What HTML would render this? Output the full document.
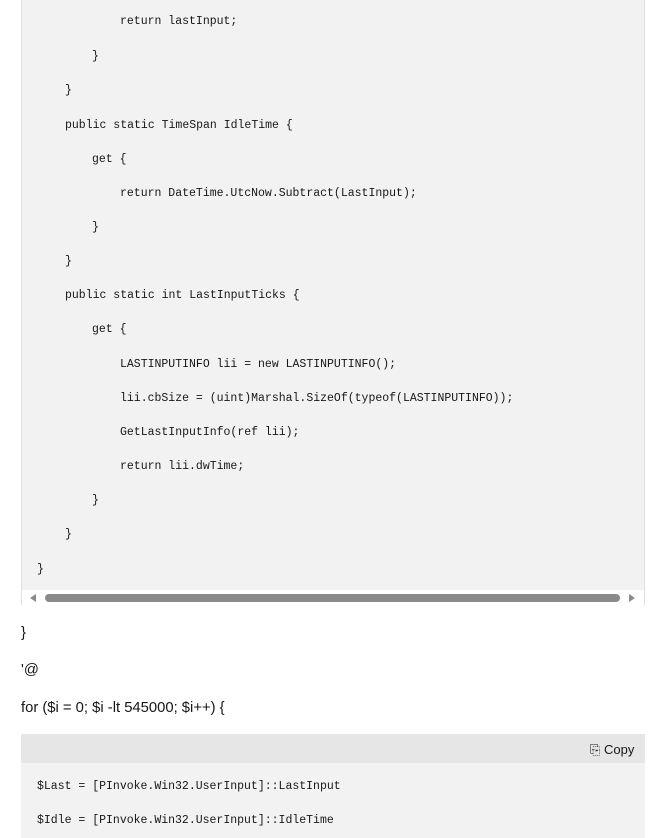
<!DOCTYPE html>
<html><head><meta charset="utf-8"><style>
body{margin:0;width:655px;height:838px;background:#fff;position:relative;overflow:hidden;font-family:"Liberation Sans",sans-serif;color:#171717}
.blk{position:absolute;left:21px;width:624px;background:#f2f2f2}
.m{position:absolute;font-family:"Liberation Mono",monospace;font-size:11.5px;white-space:pre;line-height:14px;color:#171717}
.t{position:absolute;left:21px;font-size:14.8px;line-height:16px;white-space:pre}
</style></head><body>
<div class="blk" style="top:0;height:605px;border:1px solid #e0e0e0;border-top:none;box-sizing:border-box"></div>
<div style="position:absolute;left:22px;top:590px;width:622px;height:15px;background:#fff"></div>
<div style="position:absolute;left:45px;top:594px;width:575px;height:8px;background:#8a8a8a;border-radius:4px"></div>
<div style="position:absolute;left:30px;top:594px;width:0;height:0;border-top:4px solid transparent;border-bottom:4px solid transparent;border-right:6px solid #8a8a8a"></div>
<div style="position:absolute;left:629px;top:594px;width:0;height:0;border-top:4px solid transparent;border-bottom:4px solid transparent;border-left:6px solid #8a8a8a"></div>
<div class="m" style="left:120px;top:15px">return lastInput;</div>
<div class="m" style="left:92px;top:50px">}</div>
<div class="m" style="left:65px;top:84px">}</div>
<div class="m" style="left:65px;top:119px">public static TimeSpan IdleTime {</div>
<div class="m" style="left:92px;top:153px">get {</div>
<div class="m" style="left:120px;top:187px">return DateTime.UtcNow.Subtract(LastInput);</div>
<div class="m" style="left:92px;top:221px">}</div>
<div class="m" style="left:65px;top:255px">}</div>
<div class="m" style="left:65px;top:289px">public static int LastInputTicks {</div>
<div class="m" style="left:92px;top:323px">get {</div>
<div class="m" style="left:120px;top:358px">LASTINPUTINFO lii = new LASTINPUTINFO();</div>
<div class="m" style="left:120px;top:392px">lii.cbSize = (uint)Marshal.SizeOf(typeof(LASTINPUTINFO));</div>
<div class="m" style="left:120px;top:426px">GetLastInputInfo(ref lii);</div>
<div class="m" style="left:120px;top:460px">return lii.dwTime;</div>
<div class="m" style="left:92px;top:494px">}</div>
<div class="m" style="left:65px;top:528px">}</div>
<div class="m" style="left:37px;top:563px">}</div>
<div class="t" style="top:625px">}</div>
<div class="t" style="top:662px">'@</div>
<div class="t" style="top:700px">for ($i = 0; $i -lt 545000; $i++) {</div>
<div class="blk" style="top:734px;height:29px;background:#e6e6e6"></div>
<div style="position:absolute;left:590px;top:742px;font-size:13px;color:#171717">&#x2398; Copy</div>
<div class="blk" style="top:763px;height:75px"></div>
<div class="m" style="left:37px;top:780px">$Last = [PInvoke.Win32.UserInput]::LastInput</div>
<div class="m" style="left:37px;top:814px">$Idle = [PInvoke.Win32.UserInput]::IdleTime</div>
</body></html>
